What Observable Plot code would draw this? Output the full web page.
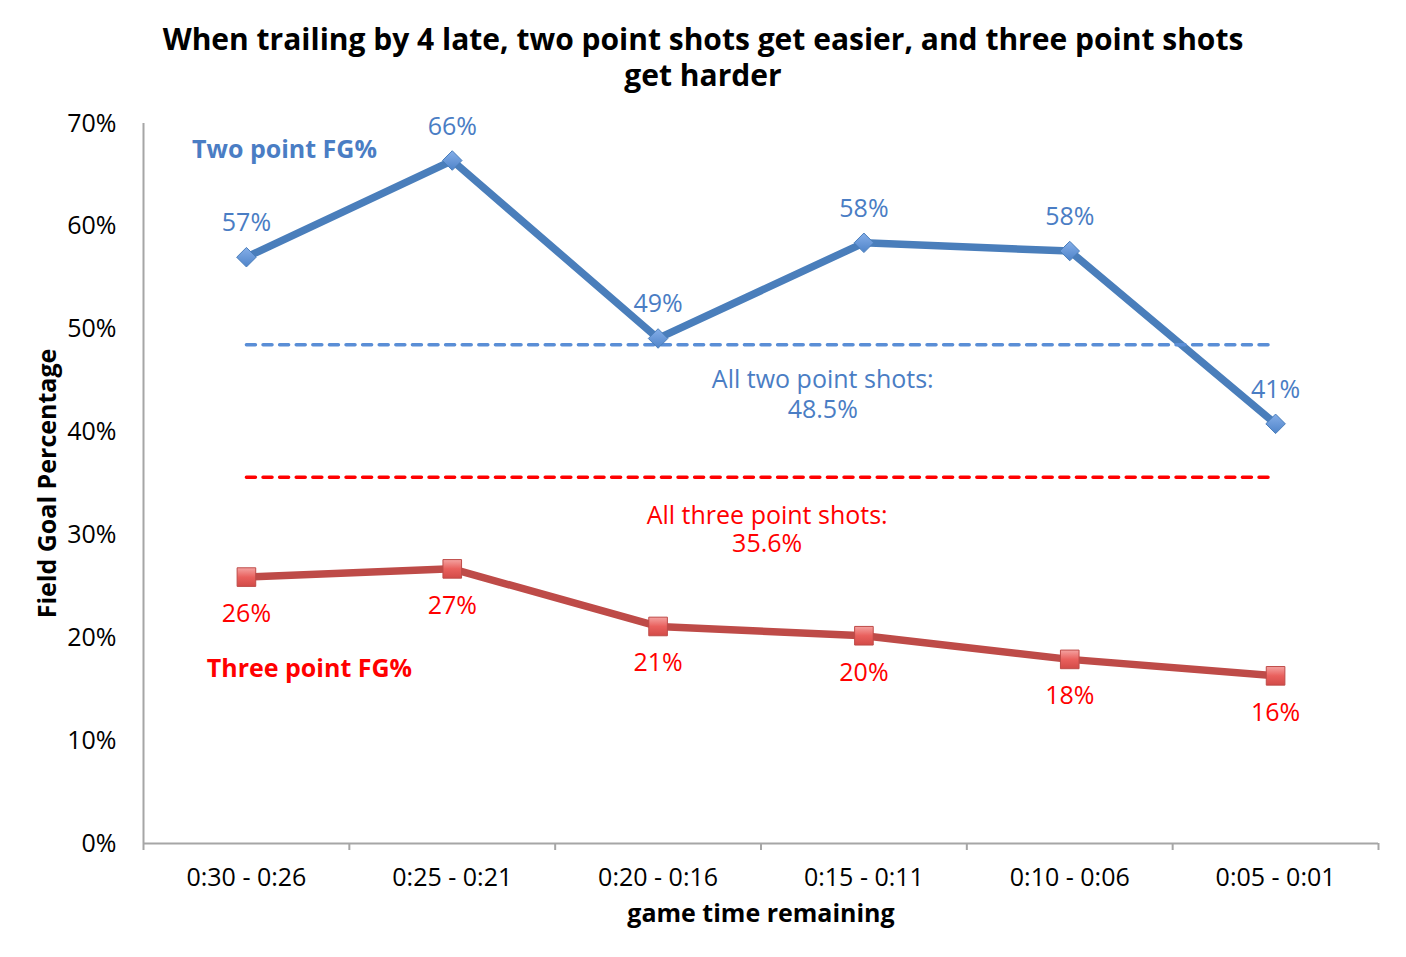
<!DOCTYPE html>
<html><head><meta charset="utf-8">
<script src="https://cdn.jsdelivr.net/npm/d3@7"></script>
<script src="https://cdn.jsdelivr.net/npm/@observablehq/plot@0.6"></script>
<style>
body{margin:0;background:#fff;font-family:"Open Sans",sans-serif;}
#title{height:100px;box-sizing:border-box;padding-top:21px;text-align:center;font-weight:700;font-size:30px;line-height:36px;color:#000;}
</style></head><body>
<div id="title">When trailing by 4 late, two point shots get easier, and three point shots<br>get harder</div>
<div id="chart"></div>
<script>
const categories = ["0:30 - 0:26", "0:25 - 0:21", "0:20 - 0:16", "0:15 - 0:11", "0:10 - 0:06", "0:05 - 0:01"];
const twoPointFG = [0.570, 0.664, 0.491, 0.584, 0.576, 0.408];
const threePointFG = [0.259, 0.267, 0.211, 0.202, 0.179, 0.163];
const allTwoPoint = 0.485;
const allThreePoint = 0.356;
const yTicks = [0, 0.1, 0.2, 0.3, 0.4, 0.5, 0.6, 0.7];

const rows = categories.map((c, i) => ({cat: c, pos: i + 0.5, two: twoPointFG[i], three: threePointFG[i]}));
const centers = rows.map(d => d.pos);
const bounds = d3.range(categories.length + 1);
const pct = d3.format(".0%");
const pct1 = d3.format(".1%");

const blueLine = "#4a7ebb", blueText = "#4a7dc4", blueDash = "#5a8ed6";
const redLine = "#be4b48", redText = "#ff0000";
const axisGray = "#a6a6a6";
const fs = 25;

const svg = Plot.plot({
  width: 1406,
  height: 857,
  marginLeft: 143,
  marginRight: 28,
  marginTop: 23,
  marginBottom: 114,
  style: {fontFamily: "Open Sans", fontSize: fs + "px", color: "#000", background: "#fff", overflow: "visible"},
  x: {type: "linear", domain: [0, categories.length], axis: null},
  y: {type: "linear", domain: [0, 0.7], axis: null},
  marks: [
    Plot.axisY(yTicks, {tickSize: 0, tickPadding: 27, tickFormat: pct, fontSize: fs, label: null}),
    Plot.axisX(centers, {tickSize: 0, tickPadding: 25, tickFormat: d => categories[Math.floor(d)], fontSize: fs, label: null}),
    Plot.axisX(bounds, {tickSize: 7, tickFormat: () => "", stroke: axisGray, strokeWidth: 2, label: null}),
    Plot.ruleX([0], {stroke: axisGray, strokeWidth: 2}),
    Plot.ruleY([0], {stroke: axisGray, strokeWidth: 2}),
    Plot.text(["Field Goal Percentage"], {frameAnchor: "left", textAnchor: "middle", lineAnchor: "middle", rotate: -90, dx: -96, fontWeight: 700, fontSize: fs}),
    Plot.text(["game time remaining"], {frameAnchor: "bottom", lineAnchor: "middle", dy: 70, fontWeight: 700, fontSize: fs}),
    Plot.line(rows, {x: "pos", y: "two", stroke: blueLine, strokeWidth: 7.5}),
    Plot.line(rows, {x: "pos", y: "three", stroke: redLine, strokeWidth: 7.5}),
    Plot.line(rows, {x: "pos", y: () => allTwoPoint, stroke: blueDash, strokeWidth: 3.5, strokeDasharray: "9,7.6", strokeLinecap: "round"}),
    Plot.line(rows, {x: "pos", y: () => allThreePoint, stroke: "#ff0000", strokeWidth: 3.5, strokeDasharray: "9,7.6", strokeLinecap: "round"}),
    Plot.dot(rows, {x: "pos", y: "two", symbol: "diamond2", r: 8.8, fill: "url(#gradBlue)", stroke: blueLine, strokeWidth: 1}),
    Plot.dot(rows, {x: "pos", y: "three", symbol: "square", r: 10.5, fill: "url(#gradRed)", stroke: redLine, strokeWidth: 1}),
    Plot.text(rows, {x: "pos", y: "two", text: d => pct(d.two), dy: -34, fill: blueText, fontSize: fs}),
    Plot.text(rows, {x: "pos", y: "three", text: d => pct(d.three), dy: 37, fill: redText, fontSize: fs}),
    Plot.text([allTwoPoint], {x: () => 3.3, y: d => d, text: d => `All two point shots:\n${pct1(d)}`, dy: 49, lineHeight: 1.2, fill: blueText, fontSize: fs}),
    Plot.text([allThreePoint], {x: () => 3.03, y: d => d, text: d => `All three point shots:\n${pct1(d)}`, dy: 52, lineHeight: 1.12, fill: redText, fontSize: fs}),
    Plot.text(["Two point FG%"], {x: () => 0.685, y: () => 0.674, fill: blueText, fontWeight: 700, fontSize: fs}),
    Plot.text(["Three point FG%"], {x: () => 0.806, y: () => 0.170, fill: redText, fontWeight: 700, fontSize: fs})
  ]
});

const defs = d3.select(svg).insert("defs", ":first-child");
const gb = defs.append("linearGradient").attr("id", "gradBlue").attr("x1", 0).attr("y1", 0).attr("x2", 0).attr("y2", 1);
gb.append("stop").attr("offset", "0%").attr("stop-color", "#85aee8");
gb.append("stop").attr("offset", "100%").attr("stop-color", "#4f84c9");
const gr = defs.append("linearGradient").attr("id", "gradRed").attr("x1", 0).attr("y1", 0).attr("x2", 0).attr("y2", 1);
gr.append("stop").attr("offset", "0%").attr("stop-color", "#f4a3a1");
gr.append("stop").attr("offset", "50%").attr("stop-color", "#e9605d");
gr.append("stop").attr("offset", "100%").attr("stop-color", "#d24b48");

document.getElementById("chart").appendChild(svg);
</script>
</body></html>
